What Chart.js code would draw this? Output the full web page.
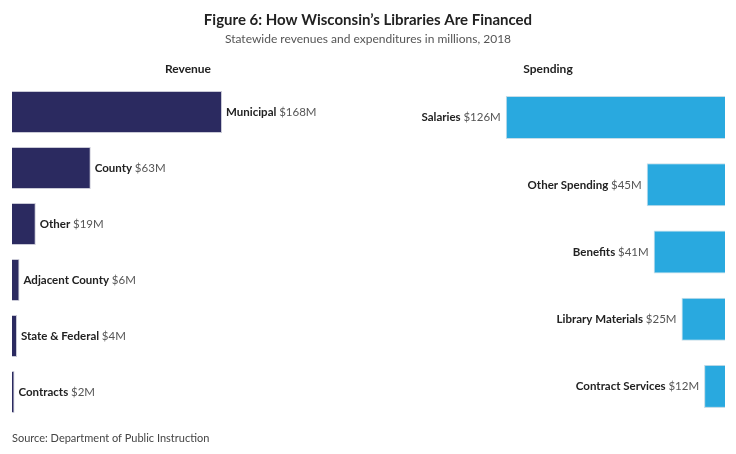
<!DOCTYPE html>
<html>
<head>
<meta charset="utf-8">
<script src="https://cdn.jsdelivr.net/npm/chart.js@4/dist/chart.umd.min.js"></script>
<style>
html,body{margin:0;padding:0;background:#fff;}
#wrap{position:relative;width:736px;height:454px;}
</style>
</head>
<body>
<div id="wrap"><canvas id="c" width="736" height="454"></canvas></div>
<script>
const revenueCategories = ["Municipal", "County", "Other", "Adjacent County", "State & Federal", "Contracts"];
const revenueValues = [168, 63, 19, 6, 4, 2];
const spendingCategories = ["Salaries", "Other Spending", "Benefits", "Library Materials", "Contract Services"];
const spendingValues = [126, 45, 41, 25, 12];
const titleText = "Figure 6: How Wisconsin\u2019s Libraries Are Financed";
const subtitleText = "Statewide revenues and expenditures in millions, 2018";
const panelTitles = ["Revenue", "Spending"];
const sourceText = "Source: Department of Public Instruction";

const FONT = "Lato, 'Open Sans', sans-serif";

const textPlugin = {
  id: 'texts',
  afterDatasetsDraw(chart) {
    const ctx = chart.ctx;
    ctx.save();
    ctx.textBaseline = 'middle';
    ctx.textAlign = 'center';
    ctx.fillStyle = '#222';
    ctx.font = "bold 15px " + FONT;
    ctx.fillText(titleText, 368, 20);
    ctx.fillStyle = '#555';
    ctx.font = "12px " + FONT;
    ctx.fillText(subtitleText, 368, 39);
    ctx.fillStyle = '#222';
    ctx.font = "bold 12px " + FONT;
    ctx.fillText(panelTitles[0], 188, 69);
    ctx.fillText(panelTitles[1], 548, 69);
    ctx.textAlign = 'left';
    ctx.fillStyle = '#444';
    ctx.font = "11px " + FONT;
    ctx.fillText(sourceText, 12, 438);

    const drawLabel = (name, val, x, y, align) => {
      ctx.font = "bold 11.5px " + FONT;
      const w1 = ctx.measureText(name + " ").width;
      ctx.font = "11.5px " + FONT;
      const valStr = "$" + val + "M";
      const w2 = ctx.measureText(valStr).width;
      let start = align === 'left' ? x : x - w1 - w2;
      ctx.textAlign = 'left';
      ctx.font = "bold 11.5px " + FONT;
      ctx.fillStyle = '#222';
      ctx.fillText(name, start, y);
      ctx.font = "11.5px " + FONT;
      ctx.fillStyle = '#555';
      ctx.fillText(valStr, start + w1, y);
    };
    chart.getDatasetMeta(0).data.forEach((bar, i) => {
      drawLabel(revenueCategories[i], revenueValues[i], bar.x + 4, bar.y, 'left');
    });
    chart.getDatasetMeta(1).data.forEach((bar, i) => {
      drawLabel(spendingCategories[i], spendingValues[i], bar.x - 5, bar.y, 'right');
    });
    ctx.restore();
  }
};

new Chart(document.getElementById('c'), {
  type: 'bar',
  data: {
    datasets: [
      {
        label: 'Revenue',
        data: revenueValues.map((v, i) => ({ x: v, y: revenueCategories[i] })),
        xAxisID: 'x', yAxisID: 'y',
        backgroundColor: '#2b2a60',
        borderColor: '#c9c9d6',
        borderWidth: 1,
        grouped: false,
        barPercentage: 0.75,
        categoryPercentage: 1.0
      },
      {
        label: 'Spending',
        data: spendingValues.map((v, i) => ({ x: v, y: spendingCategories[i] })),
        xAxisID: 'x2', yAxisID: 'y2',
        backgroundColor: '#29a9df',
        borderColor: '#c6dde8',
        borderWidth: 1,
        grouped: false,
        barPercentage: 0.64,
        categoryPercentage: 1.0
      }
    ]
  },
  options: {
    indexAxis: 'y',
    responsive: false,
    animation: false,
    layout: { padding: { left: 12, right: 11, top: 84, bottom: 34 } },
    plugins: { legend: { display: false }, tooltip: { enabled: false }, title: { display: false } },
    scales: {
      x: { type: 'linear', min: 0, max: 570.4, display: false, grid: { display: false } },
      x2: { type: 'linear', min: 0, max: 409.8, reverse: true, display: false, grid: { display: false } },
      y: { type: 'category', labels: revenueCategories, display: false, grid: { display: false } },
      y2: { type: 'category', labels: spendingCategories, display: false, grid: { display: false } }
    }
  },
  plugins: [textPlugin]
});
</script>
</body>
</html>
